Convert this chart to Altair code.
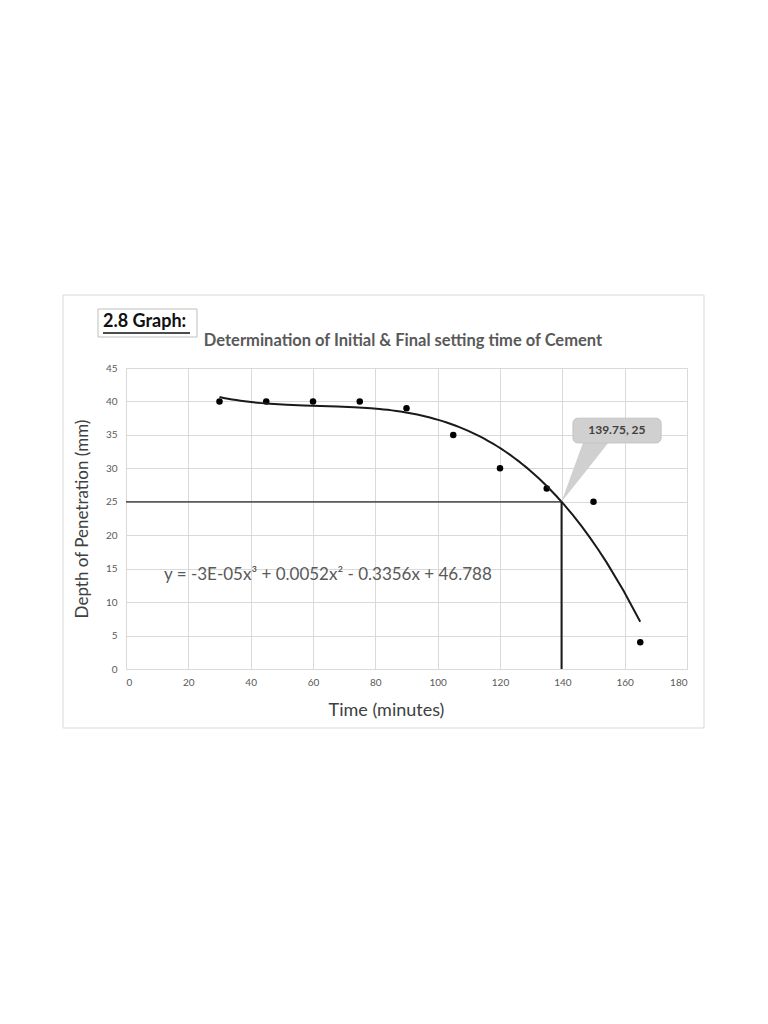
import altair as alt
import pandas as pd

# Observations
time_min = [30, 45, 60, 75, 90, 105, 120, 135, 150, 165]
depth_mm = [40, 40, 40, 40, 39, 35, 30, 27, 25, 4]

# Reading of setting time at 25 mm
t_read = 139.75
d_read = 25

x_ticks = list(range(0, 181, 20))
y_ticks = list(range(0, 46, 5))

title_text = "Determination of Initial & Final setting time of Cement"
heading_text = "2.8 Graph:"
equation_text = "y = -3E-05x\u00b3 + 0.0052x\u00b2 - 0.3356x + 46.788"
callout_text = "139.75, 25"

FONT = "Lato"
GRID = "#d9d9d9"

pts = pd.DataFrame({"t": time_min, "d": depth_mm})
one = pd.DataFrame({"a": [0]})

xs = alt.Scale(domain=[0, 180], nice=False)
ys = alt.Scale(domain=[0, 45], nice=False)

xaxis = alt.Axis(values=x_ticks, title="Time (minutes)", grid=True, gridColor=GRID,
                 domainColor=GRID, ticks=False, labelFontSize=10, labelColor="#595959",
                 labelFont=FONT, labelPadding=8, labelOverlap=False, titleFont=FONT, titleFontSize=18,
                 titleFontWeight="normal", titleColor="#404040", titlePadding=14, titleX=260)
yaxis = alt.Axis(values=y_ticks, title="Depth of Penetration (mm)", grid=True, gridColor=GRID,
                 domain=False, ticks=False, labelFontSize=10, labelColor="#595959",
                 labelFont=FONT, labelPadding=9, labelOverlap=False, titleFont=FONT, titleFontSize=17,
                 titleFontWeight="normal", titleColor="#404040", titlePadding=14)


def X(f="t"):
    return alt.X(f"{f}:Q", scale=xs, axis=xaxis)


def Y(f="d"):
    return alt.Y(f"{f}:Q", scale=ys, axis=yaxis)


frame = alt.Chart(one).mark_rect(fill="white", fillOpacity=0, stroke=GRID, strokeWidth=1).encode(
    x=alt.value(-63), x2=alt.value(578), y=alt.value(-73), y2=alt.value(360))

points = alt.Chart(pts).mark_circle(color="black", size=42, opacity=1).encode(x=X(), y=Y())

trend = alt.Chart(pts).transform_regression(
    "t", "d", method="poly", order=3, extent=[30, 165]
).mark_line(color="#1a1a1a", strokeWidth=2).encode(x=X(), y=Y())

hline = alt.Chart(pd.DataFrame({"t": [0], "t2": [t_read], "d": [d_read]})).mark_rule(
    color="#262626", strokeWidth=1.3).encode(x=X(), x2="t2:Q", y=Y())
vline = alt.Chart(pd.DataFrame({"t": [t_read], "d": [0], "d2": [d_read]})).mark_rule(
    color="#1a1a1a", strokeWidth=2).encode(x=X(), y=Y(), y2="d2:Q")

# callout bubble
pointer = alt.Chart(pd.DataFrame({"t": [t_read, 146.6, 154.7], "d": [d_read, 33.8, 33.8],
                                  "d2": [d_read, 29.0, 33.8]})).mark_area(
    color="#d0d0d0", opacity=1, interpolate="linear").encode(x=X(), y=Y(), y2="d2:Q")
box = alt.Chart(pd.DataFrame({"t": [143.4], "t2": [171.7], "d": [33.8], "d2": [37.5]})).mark_rect(
    fill="#d0d0d0", stroke="#c4c4c4", cornerRadius=5).encode(x=X(), x2="t2:Q", y=Y(), y2="d2:Q")
box_text = alt.Chart(pd.DataFrame({"t": [157.5], "d": [35.7], "s": [callout_text]})).mark_text(
    font=FONT, fontSize=12, fontWeight="bold", color="#404040").encode(x=X(), y=Y(), text="s:N")

eq = alt.Chart(pd.DataFrame({"t": [12.2], "d": [14.1], "s": [equation_text]})).mark_text(
    font=FONT, fontSize=17, color="#595959", align="left", baseline="middle").encode(
    x=X(), y=Y(), text="s:N")

title = alt.Chart(pd.DataFrame({"s": [title_text]})).mark_text(
    font=FONT, fontSize=16.5, fontWeight="bold", color="#595959", align="center", baseline="middle").encode(
    x=alt.value(277), y=alt.value(-27), text="s:N")

head_box = alt.Chart(one).mark_rect(fill="white", stroke="#bfbfbf", strokeWidth=1).encode(
    x=alt.value(-28), x2=alt.value(71), y=alt.value(-59), y2=alt.value(-31))
head = alt.Chart(pd.DataFrame({"s": [heading_text]})).mark_text(
    font=FONT, fontSize=18, fontWeight="bold", color="#111111", align="left", baseline="middle").encode(
    x=alt.value(-23), y=alt.value(-46), text="s:N")
head_ul = alt.Chart(one).mark_rule(color="#111111", strokeWidth=1.3).encode(
    x=alt.value(-23), x2=alt.value(64), y=alt.value(-35))

chart = alt.layer(frame, head_box, head, head_ul, title, points, hline, vline, trend,
                  pointer, box, box_text, eq).properties(
    width=561, height=301,
    padding={"left": 118, "top": 360, "right": 73, "bottom": 300},
    autosize=alt.AutoSizeParams(type="none"),
).configure_view(stroke=None).configure(background="white")

chart.save("out.html", embed_options={"renderer": "svg", "actions": False})
